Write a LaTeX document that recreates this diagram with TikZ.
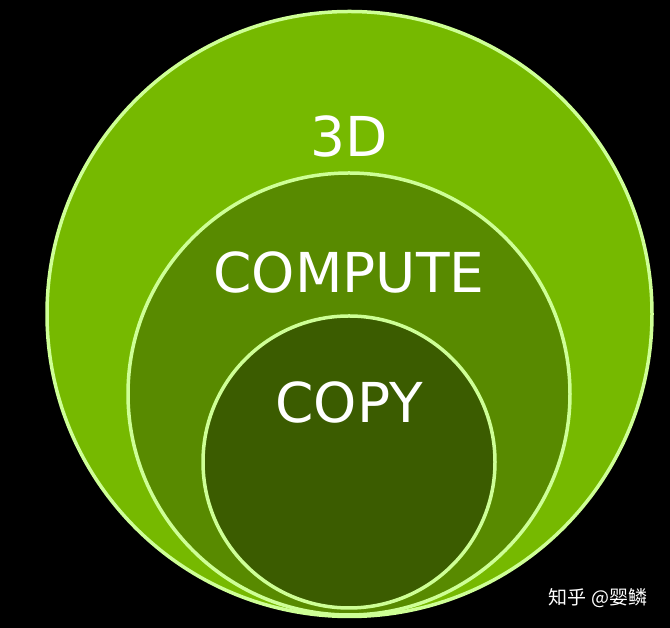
\documentclass[tikz,border=0pt]{standalone}
\usepackage{fontspec}
\setmainfont{DejaVu Sans}
\newfontfamily\cjk{Noto Sans CJK SC}
\definecolor{rimgreen}{RGB}{206,255,150}
\definecolor{outergreen}{RGB}{118,185,0}
\definecolor{midgreen}{RGB}{88,138,0}
\definecolor{innergreen}{RGB}{59,92,0}
\tikzset{
  ring/.style={circle, inner sep=0pt, draw=rimgreen, line width=3.5pt},
  label/.style={text=white, font=\fontsize{55}{66}\selectfont, anchor=base, inner sep=0pt},
}
\begin{document}
\begin{tikzpicture}[x=1pt,y=1pt]
\fill[black] (0,0) rectangle (670,628);
\useasboundingbox (0,0) rectangle (670,628);
\node[ring, fill=outergreen, minimum size=605pt] (outer) at (349.5,314) {};
\node[ring, fill=midgreen, minimum size=442pt] (middle) at (349,234) {};
\node[ring, fill=innergreen, minimum size=292pt] (inner) at (349,166) {};
\node[label] (t3d) at (349,471) {3D};
\node[label] (tcompute) at (349,335) {COMPUTE};
\node[label] (tcopy) at (349,205) {COPY};
\node[text=white, font=\cjk\fontsize{19}{22}\selectfont, inner sep=0pt] (wm) at (598,30) {知乎 @婴鳞};
\end{tikzpicture}
\end{document}
